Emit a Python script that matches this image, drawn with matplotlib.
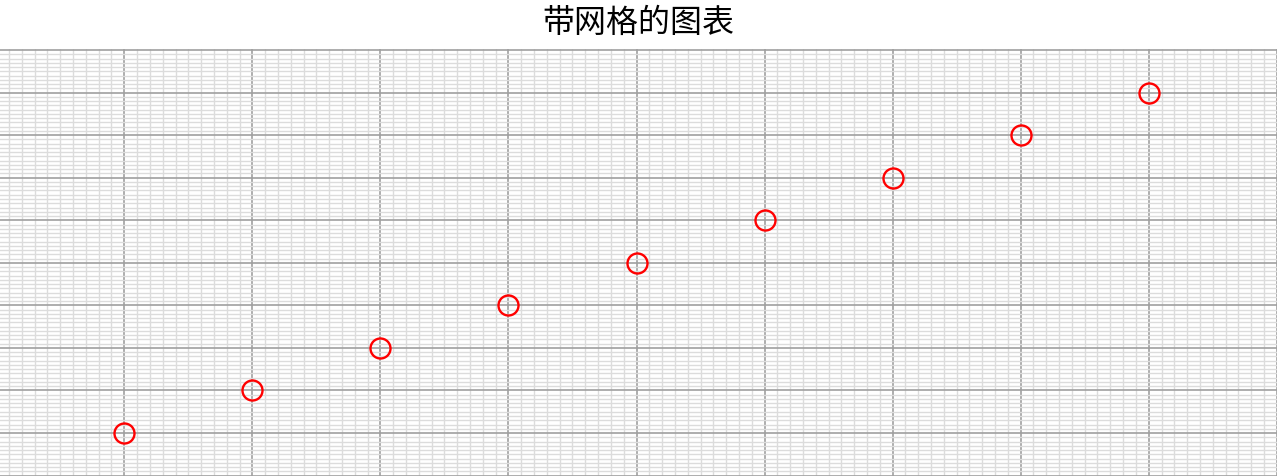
import matplotlib
matplotlib.use("Agg")
import matplotlib.pyplot as plt
from matplotlib.ticker import MultipleLocator

title = "带网格的图表"
x_values = [1, 2, 3, 4, 5, 6, 7, 8, 9]
y_values = [1, 2, 3, 4, 5, 6, 7, 8, 9]

plt.rcParams['font.family'] = ['Noto Sans CJK SC', 'DejaVu Sans']

fig = plt.figure(figsize=(12.77, 4.77), dpi=100)
ax = fig.add_axes([0, 0, 1, 427.4 / 477])

ax.plot(x_values, y_values, linestyle='none', marker='o', markersize=14.4,
        markerfacecolor='none', markeredgecolor='#ff0000', markeredgewidth=1.7,
        zorder=3)

ax.set_xlim(1 - 124.3 / 128.05, 9 + 128.3 / 128.05)
ax.set_ylim(-0.01, 10.035)

ax.xaxis.set_major_locator(MultipleLocator(1))
ax.xaxis.set_minor_locator(MultipleLocator(0.1))
ax.yaxis.set_major_locator(MultipleLocator(1))
ax.yaxis.set_minor_locator(MultipleLocator(0.1))

ax.grid(which='major', color='#a0a0a0', linewidth=1.2)
ax.grid(which='minor', color='#dcdcdc', linewidth=1.0)
ax.set_axisbelow(True)

ax.tick_params(which='both', length=0, labelbottom=False, labelleft=False)
for side in ('left', 'right', 'top', 'bottom'):
    ax.spines[side].set_visible(False)

fig.text(0.5, 1 - 22.5 / 477, title, ha='center', va='center', fontsize=23,
         color='black')

fig.savefig("out.png", dpi=100)
